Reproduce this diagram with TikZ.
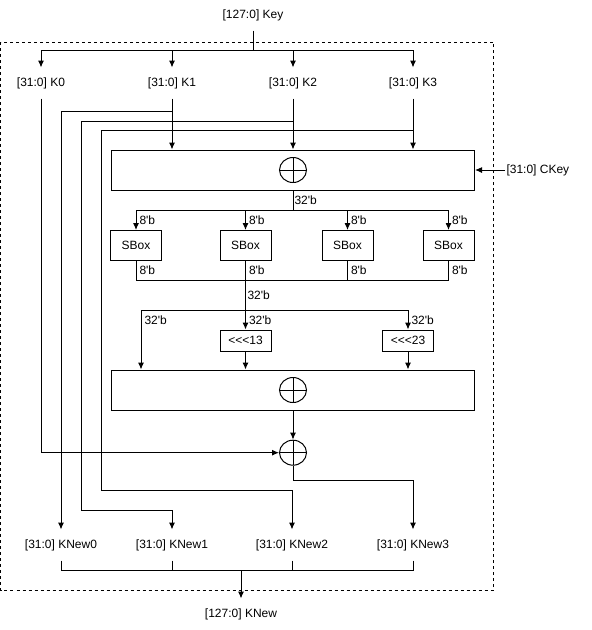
\documentclass[tikz,border=0pt]{standalone}
\usepackage{fontspec}
\newfontfamily\diofont{Liberation Sans}
\usepackage{tikz}
\usetikzlibrary{arrows.meta}
\usetikzlibrary{shapes.geometric}
\tikzset{>={Latex[length=7pt,width=6pt]}}
\tikzset{sig/.style = {inner sep=1pt, minimum height=30pt}}
\tikzset{blk/.style = {shape=rectangle, draw, inner sep=0pt}}
\tikzset{sbox/.style = {blk, minimum width=51pt, minimum height=30pt}}
\tikzset{rot/.style = {blk, minimum width=51pt, minimum height=21pt}}
\tikzset{mix/.style = {blk, minimum width=363pt, minimum height=40pt}}
\tikzset{xorc/.style = {shape=ellipse, draw, minimum width=27pt, minimum height=25pt,
inner sep=0pt, path picture={\draw (path picture bounding box.north) -- (path picture bounding box.south)
(path picture bounding box.west) -- (path picture bounding box.east);}}}
\tikzset{bits/.style = {right, inner sep=3pt}}
\newcommand{\bitw}[1]{#1'b}
\newcommand{\rotl}[1]{<<<#1}

\begin{document}
\begin{tikzpicture}[x=1pt, y=-1pt, line width=1pt, font=\diofont\fontsize{12}{14}\selectfont]
                \useasboundingbox (0,0) rectangle (592,630);
                \draw[dash pattern=on 3pt off 3pt] (0.5,42) rectangle (493.5,590);

                \node[sig] (key) at (253,15) {[127:0] Key};
                \node[sig] (k0) at (41,83) {[31:0] K0};
                \node[sig] (k1) at (172,83) {[31:0] K1};
                \node[sig] (k2) at (293,83) {[31:0] K2};
                \node[sig] (k3) at (413,83) {[31:0] K3};
                \node[sig, anchor=west] (ckey) at (505,170) {[31:0] CKey};

                \node[mix] (mix1) at (293,170) {};
                \node[xorc] (xor1) at (293,170) {};
                \node[sbox] (s0) at (136,245.5) {SBox};
                \node[sbox] (s1) at (245.5,245.5) {SBox};
                \node[sbox] (s2) at (347.5,245.5) {SBox};
                \node[sbox] (s3) at (448.5,245.5) {SBox};
                \node[rot] (r13) at (245.5,340.5) {\rotl{13}};
                \node[rot] (r23) at (408,340.5) {\rotl{23}};
                \node[mix] (mix2) at (293,390) {};
                \node[xorc] (xor2) at (293,390) {};
                \node[xorc] (xor3) at (293,452.7) {};

                \node[sig] (knew0) at (61,545) {[31:0] KNew0};
                \node[sig] (knew1) at (172,545) {[31:0] KNew1};
                \node[sig] (knew2) at (292,545) {[31:0] KNew2};
                \node[sig] (knew3) at (413,545) {[31:0] KNew3};
                \node[sig] (knew) at (241,614) {[127:0] KNew};

                \coordinate (kbus) at (253,50);
                \coordinate (b1) at (172,111);
                \coordinate (b2) at (293,121);
                \coordinate (b3) at (413,130);
                \coordinate (sp) at (293,210);
                \coordinate (sm) at (245.5,280);
                \coordinate (rp) at (245.5,310);
                \coordinate (lt) at (141,310);
                \coordinate (xo) at (293,480);
                \coordinate (kn) at (241,570);

                \draw (key) -- (kbus);
                \draw[->] (kbus) -| (k0);
                \draw[->] (kbus) -| (k1);
                \draw[->] (kbus) -| (k2);
                \draw[->] (kbus) -| (k3);

                \draw[->] (k1) -- (k1 |- mix1.north);
                \draw[->] (k2) -- (k2 |- mix1.north);
                \draw[->] (k3) -- (k3 |- mix1.north);
                \draw[->] (ckey) -- (mix1);

                \draw (mix1) -- node[bits, inner sep=1pt] {\bitw{32}} (sp);
                \draw[->] (sp) -| node[bits, pos=0.75] {\bitw{8}} (s0);
                \draw[->] (sp) -| node[bits, pos=0.75] {\bitw{8}} (s1);
                \draw[->] (sp) -| node[bits, pos=0.75] {\bitw{8}} (s2);
                \draw[->] (sp) -| node[bits, pos=0.75] {\bitw{8}} (s3);

                \draw (s0) |- node[bits, pos=0.25] {\bitw{8}} (sm);
                \draw (s1) -- node[bits] {\bitw{8}} (sm);
                \draw (s2) |- node[bits, pos=0.25] {\bitw{8}} (sm);
                \draw (s3) |- node[bits, pos=0.25] {\bitw{8}} (sm);

                \draw (sm) -- node[bits, inner sep=1.5pt] {\bitw{32}} (rp);
                \draw[->] (rp) -- (lt) -- node[bits, pos=0.17] {\bitw{32}} (lt |- mix2.north);
                \draw[->] (rp) -- node[bits] {\bitw{32}} (r13);
                \draw[->] (rp) -| node[bits, pos=0.75] {\bitw{32}} (r23);
                \draw[->] (r13) -- (r13 |- mix2.north);
                \draw[->] (r23) -- (r23 |- mix2.north);

                \draw[->] (mix2) -- (xor3);
                \draw[->] (k0) |- (xor3);
                \draw[->] (xor3) -- (xo) -| (knew3);
                \draw[->] (b1) -| (knew0);
                \draw[->] (b2) -| (81,510) -| (knew1);
                \draw[->] (b3) -| (101,490) -| (knew2);

                \draw (knew0) |- (kn);
                \draw (knew1) |- (kn);
                \draw (knew2) |- (kn);
                \draw (knew3) |- (kn);
                \draw[->] (kn) -- (knew);
            \end{tikzpicture}
\end{document}
